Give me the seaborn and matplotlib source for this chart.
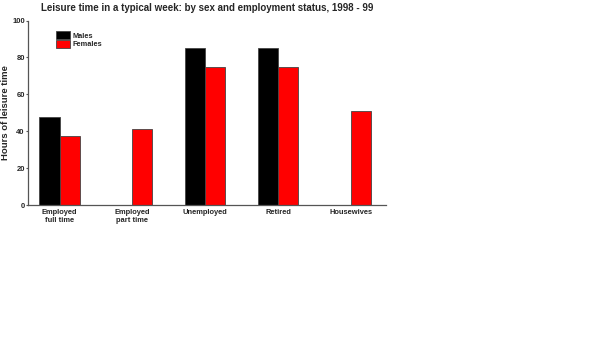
import numpy as np
import pandas as pd
import matplotlib
matplotlib.use("Agg")
import matplotlib.pyplot as plt
import seaborn as sns

categories = ["Employed\nfull time", "Employed\npart time", "Unemployed", "Retired", "Housewives"]
males = [48, np.nan, 85, 85, np.nan]
females = [37.5, 41.5, 75, 75, 51]
series = ["Males", "Females"]
colors = ["#000000", "#ff0000"]
yticks = [0, 20, 40, 60, 80, 100]

df = pd.DataFrame({
    "category": categories * 2,
    "sex": ["Males"] * len(categories) + ["Females"] * len(categories),
    "hours": males + females,
})

sns.set_style("white")
plt.rcParams["font.family"] = ["Liberation Sans", "DejaVu Sans"]

fig = plt.figure(figsize=(6.0, 3.37), dpi=100)
ax = fig.add_axes([0.047, 0.391, 0.596, 0.548])

sns.barplot(data=df, x="category", y="hours", hue="sex", hue_order=series,
            order=categories, palette=colors, width=0.55, dodge=True, saturation=1,
            edgecolor="#444444", linewidth=0.6, ax=ax, legend=True)

ax.set_xlim(-0.43, 4.48)
ax.set_ylim(0, 100)
ax.set_yticks(yticks)
ax.set_yticklabels([str(v) for v in yticks], fontsize=5.5, fontweight="bold")
ax.set_xticks(range(len(categories)))
ax.set_xticklabels(categories, fontsize=5.4, fontweight="bold", linespacing=1.1)
ax.tick_params(axis="y", length=1.6, width=0.8, color="#555555", pad=0.8, left=True)
ax.tick_params(axis="x", length=0, pad=3)
ax.set_xlabel("")
ax.set_ylabel("Hours of leisure time", fontsize=6.8, fontweight="bold")
ax.yaxis.set_label_coords(-0.05, 0.5)
ax.set_title("Leisure time in a typical week: by sex and employment status, 1998 - 99",
             fontsize=7, fontweight="bold", pad=7)

for s in ["top", "right"]:
    ax.spines[s].set_visible(False)
for s in ["left", "bottom"]:
    ax.spines[s].set_color("#555555")
    ax.spines[s].set_linewidth(0.9)

handles, labels = ax.get_legend_handles_labels()
leg = ax.legend(handles, labels, loc="upper left", bbox_to_anchor=(0.065, 0.965),
                frameon=False, prop={"weight": "bold", "size": 5.3},
                handlelength=1.9, handleheight=1.25, labelspacing=0.0,
                handletextpad=0.3, borderaxespad=0.2)

fig.savefig("out.png", dpi=100)
